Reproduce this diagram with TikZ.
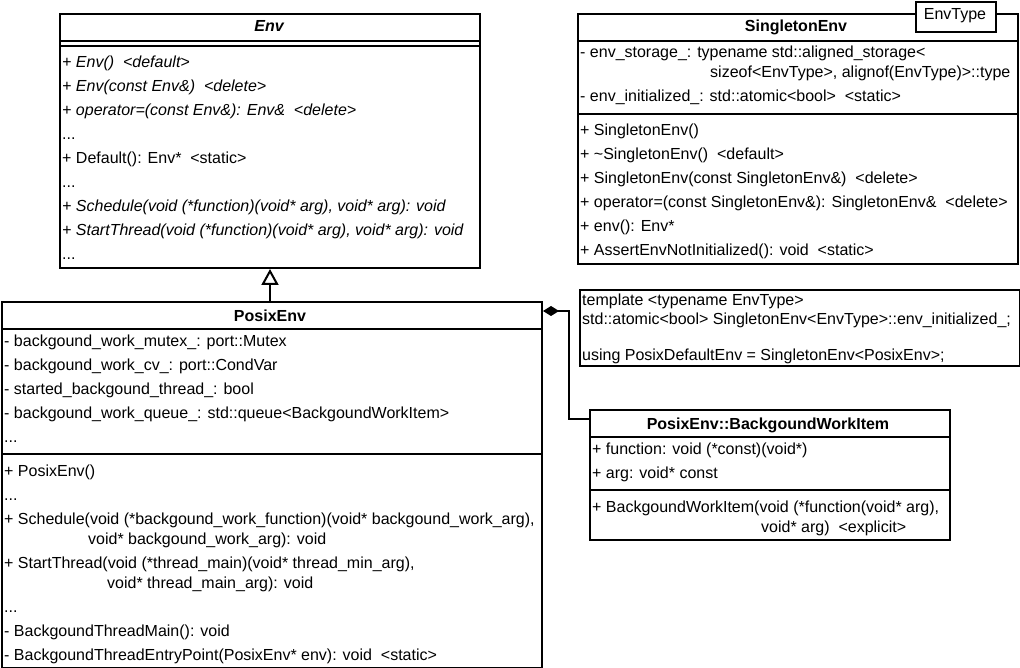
\documentclass[tikz,border=0pt]{standalone}
\usepackage{fontspec}
\setmainfont{Liberation Sans}
\usetikzlibrary{arrows.meta}
\begin{document}
\begin{tikzpicture}[x=1pt,y=-1pt,
  box/.style={draw, line width=2pt, inner sep=0pt, anchor=north west, fill=white},
  row/.style={anchor=base west, inner sep=0pt, font=\fontsize{16}{19}\selectfont},
  hdr/.style={anchor=base, inner sep=0pt, font=\fontsize{16}{19}\selectfont\bfseries},
  sep/.style={line width=2pt},
  rel/.style={line width=2pt}]
\useasboundingbox (0,0) rectangle (1020,668);

% ---------- Env ----------
\node[box, minimum width=420pt, minimum height=254pt] (env) at (59,13) {};
\node[hdr, font=\fontsize{16}{19}\selectfont\bfseries\itshape] (envh) at (269,32) {Env};
\draw[sep] (59,41) -- (479,41);
\draw[sep] (59,46) -- (479,46);
\node[row, font=\fontsize{16}{19}\selectfont\itshape] (e1) at (62,68) {+ Env()~~<default>};
\node[row, font=\fontsize{16}{19}\selectfont\itshape] (e2) at (62,92) {+ Env(const Env\&)~~<delete>};
\node[row, font=\fontsize{16}{19}\selectfont\itshape] (e3) at (62,116) {+ operator=(const Env\&): Env\&~~<delete>};
\node[row] (e4) at (62,140) {...};
\node[row] (e5) at (62,164) {+ Default(): Env*~~<static>};
\node[row] (e6) at (62,188) {...};
\node[row, font=\fontsize{16}{19}\selectfont\itshape] (e7) at (62,212) {+ Schedule(void (*function)(void* arg), void* arg): void};
\node[row, font=\fontsize{16}{19}\selectfont\itshape] (e8) at (62,236) {+ StartThread(void (*function)(void* arg), void* arg): void};
\node[row] (e9) at (62,260) {...};

% ---------- SingletonEnv ----------
\node[box, minimum width=440pt, minimum height=250pt] (sing) at (577,13) {};
\node[hdr] (singh) at (796,32) {SingletonEnv};
\draw[sep] (577,41) -- (1017,41);
\node[row] (s1) at (580,58) {- env\_storage\_: typename std::aligned\_storage<};
\node[row] (s2) at (710,78) {sizeof<EnvType>, alignof(EnvType)>::type};
\node[row] (s3) at (580,102) {- env\_initialized\_: std::atomic<bool>~~<static>};
\draw[sep] (577,114) -- (1017,114);
\node[row] (s4) at (580,136) {+ SingletonEnv()};
\node[row] (s5) at (580,160) {+ \textasciitilde SingletonEnv()~~<default>};
\node[row] (s6) at (580,184) {+ SingletonEnv(const SingletonEnv\&)~~<delete>};
\node[row] (s7) at (580,208) {+ operator=(const SingletonEnv\&): SingletonEnv\&~~<delete>};
\node[row] (s8) at (580,232) {+ env(): Env*};
\node[row] (s9) at (580,256) {+ AssertEnvNotInitialized(): void~~<static>};
\node[box, minimum width=80pt, minimum height=30pt] (envtype) at (915,1) {};
\node[anchor=center, inner sep=0pt, font=\fontsize{16}{19}\selectfont] (envtypet) at (955,16) {EnvType};

% ---------- Note ----------
\node[box, minimum width=440pt, minimum height=76pt] (note) at (579,289) {};
\node[row] (n1) at (582,306) {template <typename EnvType>};
\node[row] (n2) at (582,325) {std::atomic<bool> SingletonEnv<EnvType>::env\_initialized\_;};
\node[row] (n3) at (582,360) {using PosixDefaultEnv = SingletonEnv<PosixEnv>;};

% ---------- PosixEnv ----------
\node[box, minimum width=540pt, minimum height=366pt] (posix) at (1,301) {};
\node[hdr] (posixh) at (270,321) {PosixEnv};
\draw[sep] (1,329) -- (541,329);
\node[row] (p1) at (4,346) {- backgound\_work\_mutex\_: port::Mutex};
\node[row] (p2) at (4,370) {- backgound\_work\_cv\_: port::CondVar};
\node[row] (p3) at (4,394) {- started\_backgound\_thread\_: bool};
\node[row] (p4) at (4,418) {- backgound\_work\_queue\_: std::queue<BackgoundWorkItem>};
\node[row] (p5) at (4,442) {...};
\draw[sep] (1,454) -- (541,454);
\node[row] (p6) at (4,476) {+ PosixEnv()};
\node[row] (p7) at (4,500) {...};
\node[row] (p8) at (4,524) {+ Schedule(void (*backgound\_work\_function)(void* backgound\_work\_arg),};
\node[row] (p9) at (88,544) {void* backgound\_work\_arg): void};
\node[row] (p10) at (4,568) {+ StartThread(void (*thread\_main)(void* thread\_min\_arg),};
\node[row] (p11) at (107,588) {void* thread\_main\_arg): void};
\node[row] (p12) at (4,612) {...};
\node[row] (p13) at (4,636) {- BackgoundThreadMain(): void};
\node[row] (p14) at (4,660) {- BackgoundThreadEntryPoint(PosixEnv* env): void~~<static>};

% ---------- BackgoundWorkItem ----------
\node[box, minimum width=360pt, minimum height=130pt] (bwi) at (589,409) {};
\node[hdr] (bwih) at (768,429) {PosixEnv::BackgoundWorkItem};
\draw[sep] (589,437) -- (949,437);
\node[row] (b1) at (592,454) {+ function: void (*const)(void*)};
\node[row] (b2) at (592,478) {+ arg: void* const};
\draw[sep] (589,490) -- (949,490);
\node[row] (b3) at (592,512) {+ BackgoundWorkItem(void (*function(void* arg),};
\node[row] (b4) at (761,532) {void* arg)~~<explicit>};

% ---------- Relations ----------
\draw[rel, -{Triangle[open, length=16pt, width=17pt, line width=2pt]}] (posix.north -| env.south) -- (env.south);
\coordinate (cbend1) at (569,311);
\coordinate (cbend2) at (569,419);
\draw[rel, {Diamond[length=16pt, width=10pt]}-] (posix.east |- cbend1) -- (cbend1) -- (cbend2) -- (cbend2 -| bwi.west);
\end{tikzpicture}
\end{document}
